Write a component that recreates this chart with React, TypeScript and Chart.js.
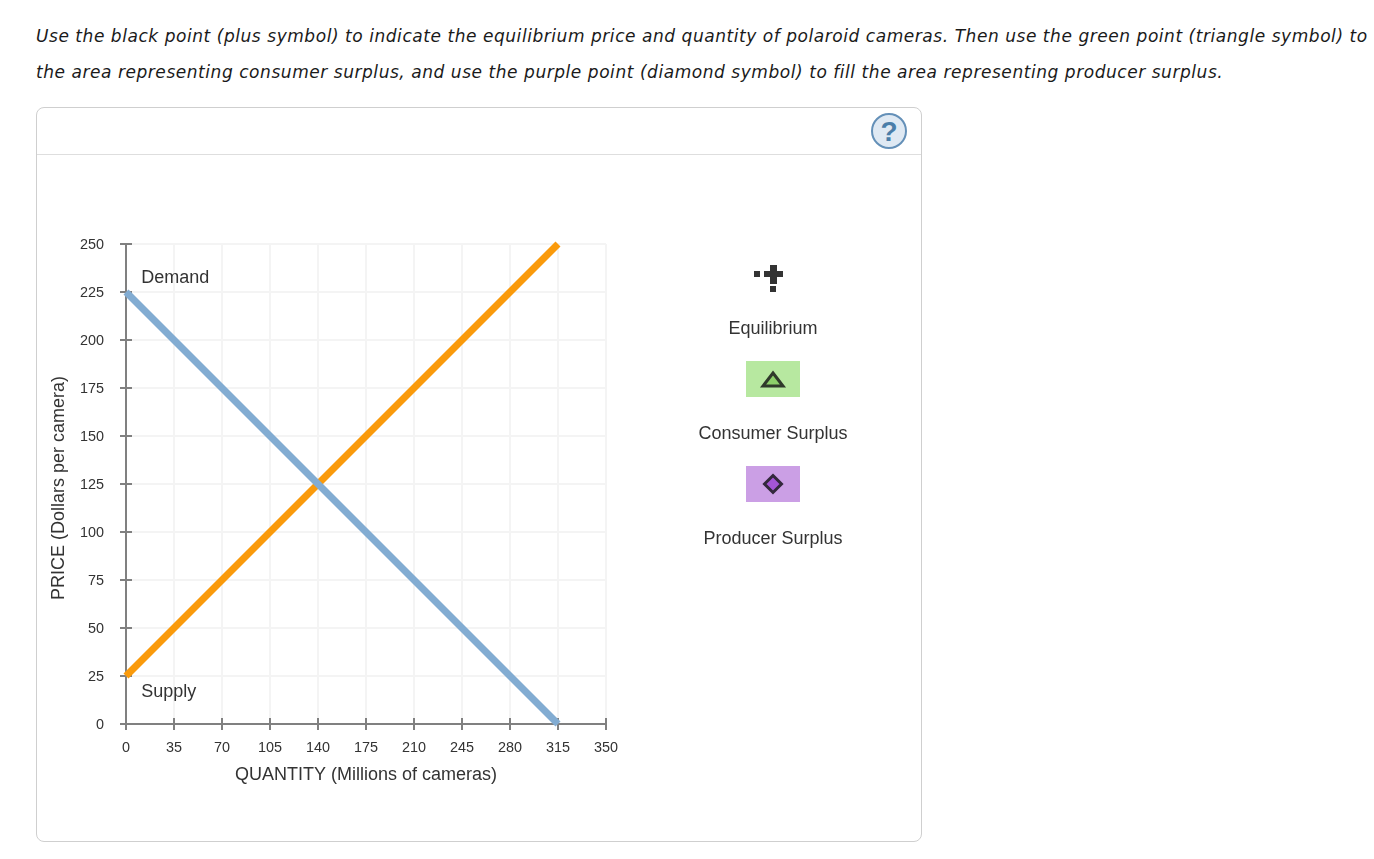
import React, { useEffect, useRef } from "react";
import { Chart, registerables } from "chart.js";

Chart.register(...registerables);

const headingLines = [
  "Use the black point (plus symbol) to indicate the equilibrium price and quantity of polaroid cameras. Then use the green point (triangle symbol) to",
  "the area representing consumer surplus, and use the purple point (diamond symbol) to fill the area representing producer surplus.",
];
const demandX = [0, 315];
const demandY = [225, 0];
const supplyX = [0, 315];
const supplyY = [25, 250];
const xTitle = "QUANTITY (Millions of cameras)";
const yTitle = "PRICE (Dollars per camera)";
const curveLabels = [
  { text: "Demand", x: 6, y: 231.5 },
  { text: "Supply", x: 6, y: 15.5 },
];
const FONT = '"Liberation Sans", Arial, sans-serif';
const TEXT = "#333333";
const AXIS = "#808080";

const axesPlugin = {
  id: "axesWithCrossTicks",
  beforeDatasetsDraw(chart: any) {
    const { ctx, scales } = chart;
    const { x, y } = scales;
    const L = 6;
    ctx.save();
    ctx.strokeStyle = AXIS;
    ctx.lineWidth = 2;
    ctx.beginPath();
    ctx.moveTo(x.getPixelForValue(0), y.getPixelForValue(250));
    ctx.lineTo(x.getPixelForValue(0), y.getPixelForValue(0));
    ctx.moveTo(x.getPixelForValue(0), y.getPixelForValue(0));
    ctx.lineTo(x.getPixelForValue(350), y.getPixelForValue(0));
    x.ticks.forEach((t: any) => {
      const px = x.getPixelForValue(t.value);
      const py = y.getPixelForValue(0);
      ctx.moveTo(px, py - L);
      ctx.lineTo(px, py + L);
    });
    y.ticks.forEach((t: any) => {
      const px = x.getPixelForValue(0);
      const py = y.getPixelForValue(t.value);
      ctx.moveTo(px - L, py);
      ctx.lineTo(px + L, py);
    });
    ctx.stroke();
    ctx.restore();
  },
  afterDatasetsDraw(chart: any) {
    const { ctx, scales } = chart;
    ctx.save();
    ctx.fillStyle = TEXT;
    ctx.font = `18px ${FONT}`;
    ctx.textBaseline = "alphabetic";
    curveLabels.forEach((l) => {
      ctx.fillText(l.text, scales.x.getPixelForValue(l.x) + 7, scales.y.getPixelForValue(l.y) + 3);
    });
    ctx.translate(scales.x.getPixelForValue(0) - 67, scales.y.getPixelForValue(125) + 4);
    ctx.rotate(-Math.PI / 2);
    ctx.textAlign = "center";
    ctx.textBaseline = "middle";
    ctx.fillText(yTitle, 0, 0);
    ctx.restore();
  },
};

const legendTextStyle = (top: number): React.CSSProperties => ({
  position: "absolute",
  left: 623,
  width: 300,
  top,
  textAlign: "center",
  font: `18px ${FONT}`,
  color: TEXT,
  lineHeight: "20px",
  whiteSpace: "nowrap",
});

export default function App() {
  const ref = useRef<HTMLCanvasElement | null>(null);

  useEffect(() => {
    document.body.style.margin = "0";
    document.body.style.overflow = "hidden";
    const chart = new Chart(ref.current as HTMLCanvasElement, {
      type: "scatter",
      data: {
        datasets: [
          {
            label: "Demand",
            data: demandX.map((x, i) => ({ x, y: demandY[i] })),
            showLine: true,
            borderColor: "#82acd2",
            borderWidth: 7,
            pointRadius: 0,
          },
          {
            label: "Supply",
            data: supplyX.map((x, i) => ({ x, y: supplyY[i] })),
            showLine: true,
            borderColor: "#fa9a0b",
            borderWidth: 7,
            pointRadius: 0,
          },
        ],
      },
      options: {
        animation: false,
        responsive: false,
        devicePixelRatio: 1,
        clip: false,
        layout: { padding: { left: 46, top: 244, right: 768, bottom: 73 } },
        plugins: { legend: { display: false }, tooltip: { enabled: false } },
        scales: {
          x: {
            type: "linear",
            min: 0,
            max: 350,
            afterFit: (s: any) => {
              s.height = 62;
            },
            ticks: { stepSize: 35, color: TEXT, font: { family: FONT, size: 14.4 }, padding: 15, maxRotation: 0, autoSkip: false },
            grid: { color: "#f4f4f4", lineWidth: 2, drawTicks: false },
            border: { display: false },
            title: { display: true, text: xTitle, color: TEXT, font: { family: FONT, size: 18 }, padding: { top: 4, bottom: 0 } },
          },
          y: {
            type: "linear",
            min: 0,
            max: 250,
            afterFit: (s: any) => {
              s.width = 80;
            },
            ticks: { stepSize: 25, color: TEXT, font: { family: FONT, size: 14.4 }, padding: 22, labelOffset: 1, autoSkip: false },
            grid: { color: "#f4f4f4", lineWidth: 2, drawTicks: false },
            border: { display: false },
          },
        },
      },
      plugins: [axesPlugin],
    } as any);
    return () => chart.destroy();
  }, []);

  return (
    <div style={{ position: "relative", width: 1374, height: 859, background: "#fff", overflow: "hidden" }}>
      {headingLines.map((line, i) => (
        <div
          key={i}
          style={{
            position: "absolute",
            left: 36,
            top: 24 + i * 36,
            font: 'italic 17px "DejaVu Sans", sans-serif',
            letterSpacing: "0.55px",
            color: "#1a1a1a",
            lineHeight: "24px",
            whiteSpace: "nowrap",
          }}
        >
          {line}
        </div>
      ))}
      <div
        style={{
          position: "absolute",
          left: 36,
          top: 107,
          width: 884,
          height: 733,
          border: "1px solid #cfcfcf",
          borderRadius: 8,
        }}
      />
      <div style={{ position: "absolute", left: 37, top: 154, width: 884, height: 1, background: "#dedede" }} />
      <div
        style={{
          position: "absolute",
          left: 871,
          top: 113,
          width: 32,
          height: 32,
          borderRadius: "50%",
          border: "2px solid #6490b8",
          background: "#dfe9f3",
          color: "#4a7ea9",
          font: `bold 28px/33px ${FONT}`,
          textAlign: "center",
        }}
      >
        ?
      </div>
      <canvas ref={ref} width={1374} height={859} style={{ position: "absolute", left: 0, top: 0, width: 1374, height: 859 }} />
      <svg width={1374} height={859} style={{ position: "absolute", left: 0, top: 0 }}>
        <g fill="#333333">
          <rect x={754} y={271} width={6} height={6} />
          <rect x={764} y={271} width={19} height={6} />
          <rect x={770} y={265} width={7} height={19} />
          <rect x={770} y={286} width={6} height={6} />
        </g>
        <rect x={746} y={361} width={54} height={36} fill="#b7e8a0" />
        <polygon points="773,373 783,386 763,386" fill="#8ccf6a" stroke="#2f3a2b" strokeWidth={3} />
        <rect x={746} y={466} width={54} height={36} fill="#cb9fe5" />
        <polygon points="773,475.5 781.5,484 773,492.5 764.5,484" fill="#a555d6" stroke="#33283c" strokeWidth={3} />
      </svg>
      <div style={legendTextStyle(318)}>Equilibrium</div>
      <div style={legendTextStyle(423)}>Consumer Surplus</div>
      <div style={legendTextStyle(528)}>Producer Surplus</div>
    </div>
  );
}
